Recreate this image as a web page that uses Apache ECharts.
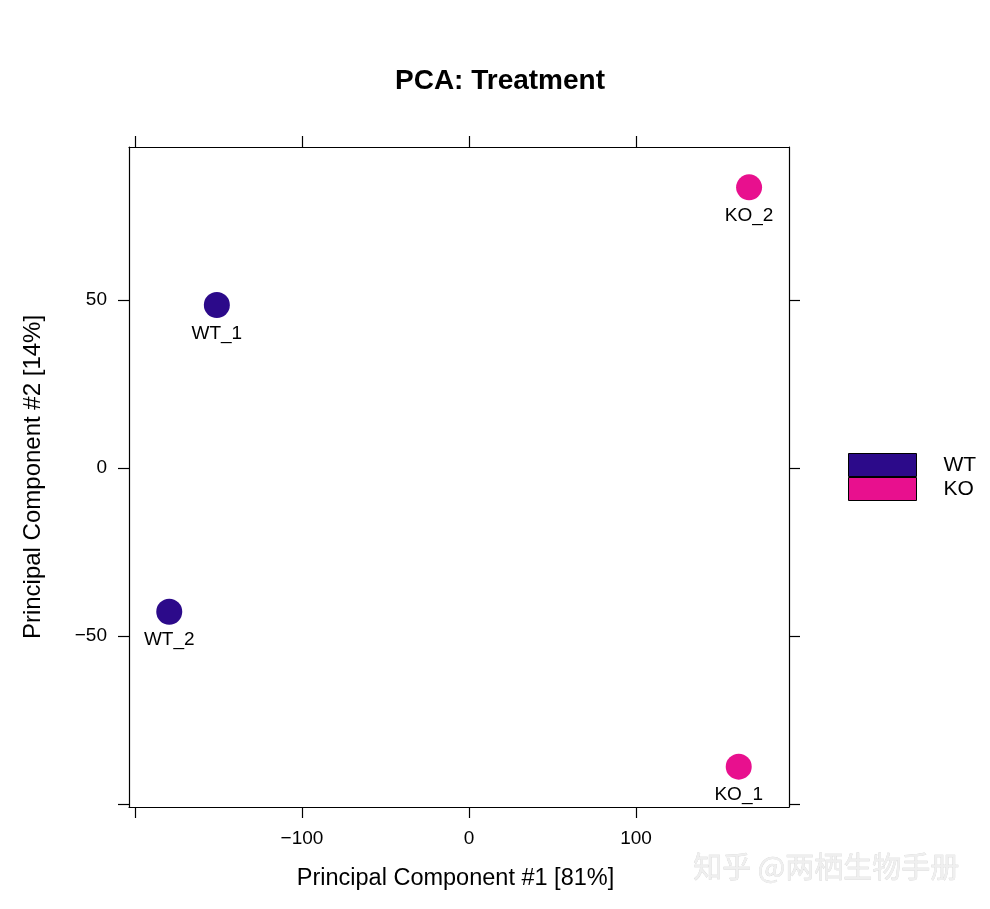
<!DOCTYPE html>
<html>
<head>
<meta charset="utf-8">
<script src="https://cdn.jsdelivr.net/npm/echarts@6/dist/echarts.min.js"></script>
<style>
  html, body { margin: 0; padding: 0; background: #fff; }
  #main { width: 990px; height: 909px; }
</style>
</head>
<body>
<div id="main"></div>
<script>
// sample scores
const samples = ['WT_1', 'WT_2', 'KO_1', 'KO_2']
const groups = ['WT', 'WT', 'KO', 'KO']
const pc1 = [-151, -179.5, 161.5, 167.7]
const pc2 = [48.5, -42.8, -88.9, 83.5]

const groupNames = ['WT', 'KO']
const groupColors = { WT: '#2C0A8A', KO: '#E8108E' }

const xTicks = [-200, -100, 0, 100]
const xLabels = [-100, 0, 100]
const yTicks = [-100, -50, 0, 50]
const yLabels = [-50, 0, 50]

const X_MIN = -203.6, X_MAX = 191.6
const Y_MIN = -100.9, Y_MAX = 95.5

const FONT = 'Liberation Sans, Arial, sans-serif'

function fmtMinus(v) {
  return String(v).replace('-', '\u2212')
}

function axisBase(show, labelVals, tickVals) {
  return {
    type: 'value',
    splitLine: { show: false },
    axisLine: { show: true, onZero: false, lineStyle: { color: '#000', width: 1.2 } },
    axisTick: { show: true, inside: false, length: 11, customValues: tickVals, lineStyle: { color: '#000', width: 1.2 } },
    axisLabel: {
      show: show,
      customValues: labelVals,
      color: '#000',
      fontSize: 19,
      fontFamily: FONT,
      margin: 22,
      formatter: fmtMinus,
    },
  }
}

const chart = echarts.init(document.getElementById('main'), null, { renderer: 'canvas' })

const series = groupNames.map(g => {
  const pts = []
  for (let i = 0; i < samples.length; i++) {
    if (groups[i] === g) pts.push({ value: [pc1[i], pc2[i]], name: samples[i] })
  }
  return {
    name: g,
    type: 'scatter',
    xAxisIndex: 0,
    yAxisIndex: 0,
    symbol: 'circle',
    symbolSize: 26,
    itemStyle: { color: groupColors[g], opacity: 1 },
    label: {
      show: true,
      position: 'bottom',
      distance: 6,
      formatter: p => p.name,
      color: '#000',
      fontSize: 19,
      fontFamily: FONT,
    },
    data: pts,
  }
})

const option = {
  backgroundColor: '#fff',
  animation: false,
  title: {
    text: 'PCA: Treatment',
    left: 495,
    textAlign: 'center',
    top: 62,
    textStyle: { fontSize: 28, fontWeight: 'bold', color: '#000', fontFamily: FONT },
  },
  legend: {
    data: groupNames,
    orient: 'vertical',
    left: 848,
    top: 453,
    padding: 0,
    itemWidth: 68,
    itemHeight: 23,
    itemGap: 0,
    icon: 'rect',
    itemStyle: { borderColor: '#000', borderWidth: 1 },
    textStyle: { fontSize: 21, color: '#000', fontFamily: FONT, lineHeight: 20, padding: [3, 0, 0, 22] },
  },
  grid: { left: 129, right: 201, top: 147, bottom: 102, containLabel: false },
  xAxis: [
    Object.assign(axisBase(true, xLabels, xTicks), {
      position: 'bottom', min: X_MIN, max: X_MAX,
      name: 'Principal Component #1 [81%]',
      nameLocation: 'middle',
      nameGap: 60,
      nameTextStyle: { fontSize: 23.5, color: '#000', fontFamily: FONT, padding: [0, 7, 0, 0] },
    }),
    Object.assign(axisBase(false, xLabels, xTicks), { position: 'top', min: X_MIN, max: X_MAX }),
  ],
  yAxis: [
    Object.assign(axisBase(true, yLabels, yTicks), {
      position: 'left', min: Y_MIN, max: Y_MAX,
      name: 'Principal Component #2 [14%]',
      nameLocation: 'middle',
      nameGap: 84,
      nameTextStyle: { fontSize: 24, color: '#000', fontFamily: FONT },
    }),
    Object.assign(axisBase(false, yLabels, yTicks), { position: 'right', min: Y_MIN, max: Y_MAX }),
  ],
  graphic: [
    {
      type: 'text',
      left: 693,
      top: 852,
      style: {
        text: '知乎 @两栖生物手册',
        font: '29px "Noto Sans CJK SC"',
        fill: '#efefef',
        stroke: '#cfcfcf',
        lineWidth: 0.5,
      },
    },
  ],
  series: series,
}

chart.setOption(option)
</script>
</body>
</html>
